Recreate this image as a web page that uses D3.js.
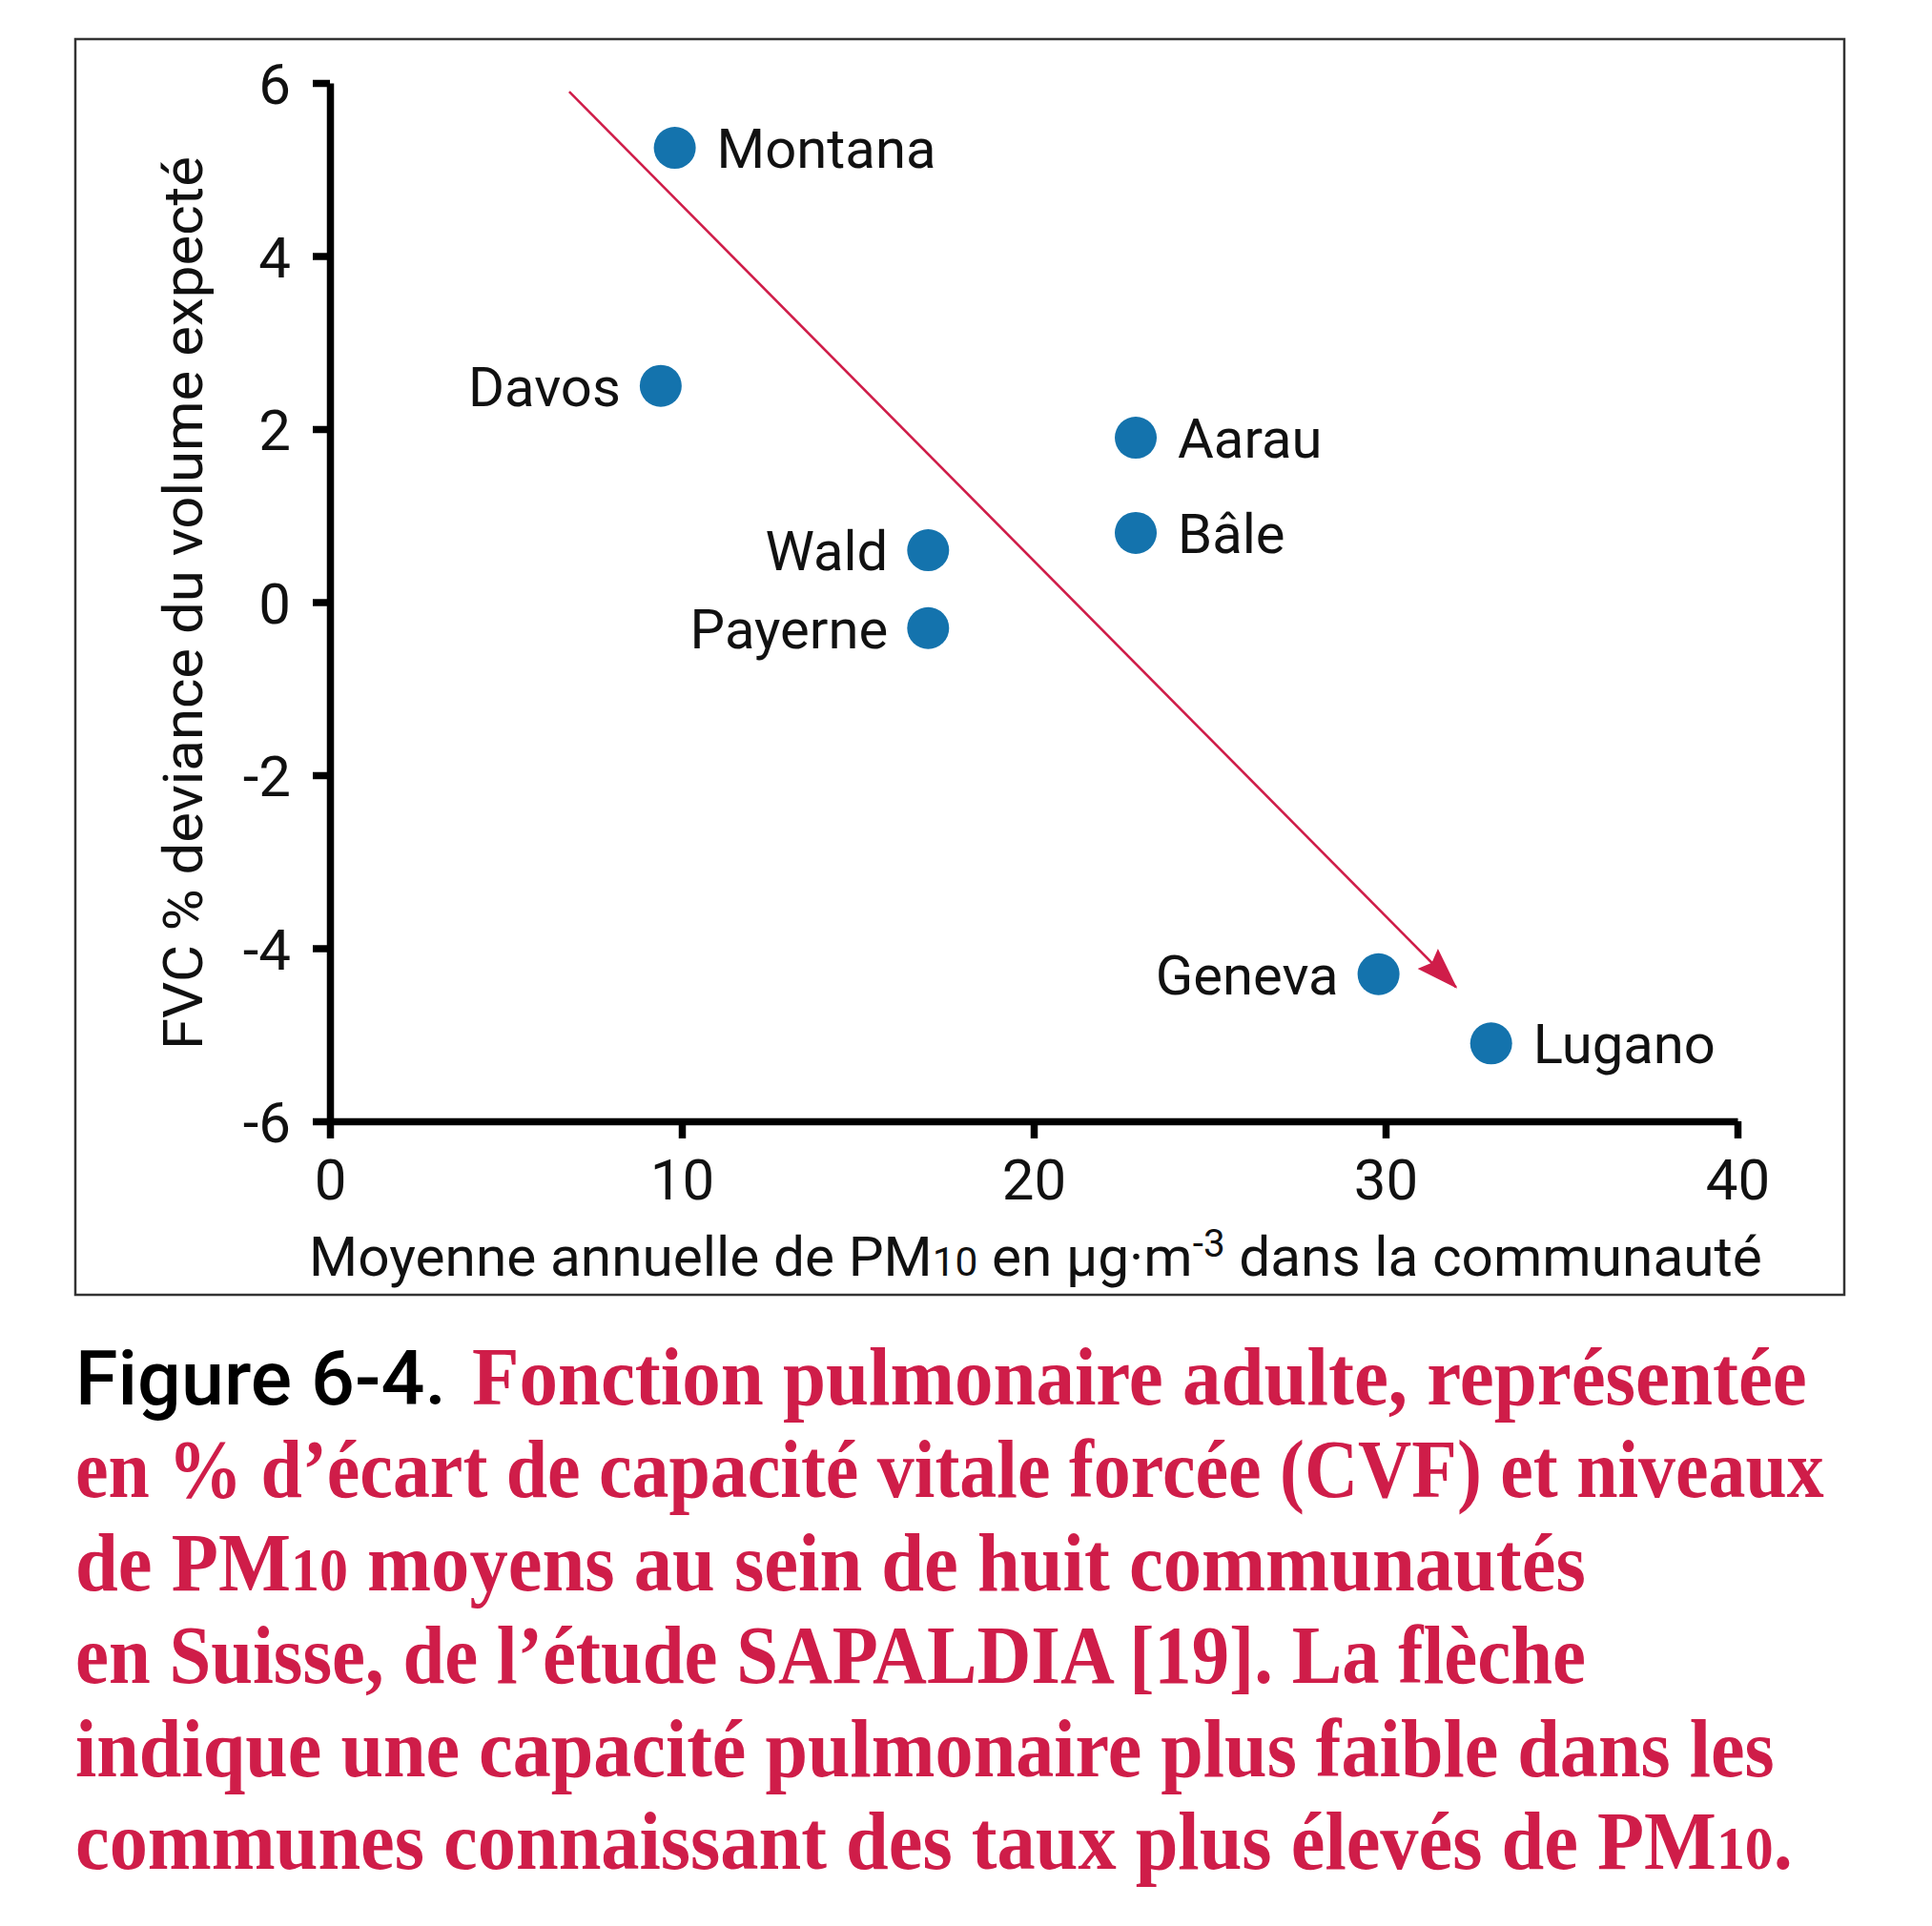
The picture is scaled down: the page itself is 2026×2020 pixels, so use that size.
<!DOCTYPE html>
<html>
<head>
<meta charset="utf-8">
<script src="https://cdnjs.cloudflare.com/ajax/libs/d3/7.8.5/d3.min.js"></script>
<style>
  body { margin: 0; background: #fff; }
  svg { display: block; }
</style>
</head>
<body>
<svg id="chart" width="2026" height="2020"></svg>
<script>
// --- data ---
var cities = ['Montana', 'Davos', 'Aarau', 'Bâle', 'Wald', 'Payerne', 'Geneva', 'Lugano'];
var pm10 = [9.8, 9.4, 22.9, 22.9, 17.0, 17.0, 29.8, 33.0];
var fvcDev = [5.25, 2.5, 1.9, 0.8, 0.6, -0.3, -4.3, -5.1];
var xTicks = [0, 10, 20, 30, 40];
var yTicks = [-6, -4, -2, 0, 2, 4, 6];
// trend arrow, start and end in data units
var arrowPm10 = [6.8, 32.0];
var arrowFvc = [5.9, -4.45];

var captionLines = [
    'Fonction pulmonaire adulte, représentée',
    'en % d’écart de capacité vitale forcée (CVF) et niveaux',
    'de PM|10| moyens au sein de huit communautés',
    'en Suisse, de l’étude SAPALDIA [19]. La flèche',
    'indique une capacité pulmonaire plus faible dans les',
    'communes connaissant des taux plus élevés de PM|10|.'
];

var blue = '#1473ad', red = '#cf1d49';
var font = 'Roboto, "DejaVu Sans", sans-serif';
var svg = d3.select('#chart');

// labels that sit to the left of their dot
var leftLabeled = ['Davos', 'Wald', 'Payerne', 'Geneva'];

// frame
svg.append('rect')
    .attr('x', 79).attr('y', 41)
    .attr('width', 1855).attr('height', 1317)
    .attr('fill', 'none').attr('stroke', '#333').attr('stroke-width', 2.5);

var x = d3.scaleLinear().domain([0, 40]).range([346, 1822]);
var y = d3.scaleLinear().domain([-6, 6]).range([1176, 87]);

// fit a text node horizontally into [x0, x1]
function fitWidth(sel, x0, x1, baseY) {
    var w = sel.node().getBBox().width;
    sel.attr('transform', 'translate(' + x0 + ',' + baseY + ') scale(' + ((x1 - x0) / w) + ',1)');
}

// axes
var xAxis = svg.append('g')
    .attr('transform', 'translate(0,' + y(-6) + ')')
    .call(d3.axisBottom(x).tickValues(xTicks).tickSize(18).tickSizeOuter(0).tickPadding(21));
var yAxis = svg.append('g')
    .attr('transform', 'translate(' + x(0) + ',0)')
    .call(d3.axisLeft(y).tickValues(yTicks).tickSize(18).tickSizeOuter(0).tickPadding(23)
        .tickFormat(function (d) { return d; }));

[xAxis, yAxis].forEach(function (g) {
    g.select('.domain').attr('stroke', '#000').attr('stroke-width', 7.5);
    g.selectAll('.tick line').attr('stroke', '#000').attr('stroke-width', 7.5);
    g.selectAll('.tick text')
        .attr('fill', '#111')
        .style('font-family', font)
        .style('font-size', '60px');
});
yAxis.selectAll('.tick text').attr('dy', '0.36em');

// axis titles
var xTitle = svg.append('text')
    .attr('fill', '#111')
    .style('font-family', font)
    .style('font-size', '58px');
xTitle.append('tspan').text('Moyenne annuelle de PM');
xTitle.append('tspan').style('font-size', '42px').text('10');
xTitle.append('tspan').text(' en µg·m');
xTitle.append('tspan').style('font-size', '40px').attr('dy', -20).text('-3');
xTitle.append('tspan').attr('dy', 20).text(' dans la communauté');
fitWidth(xTitle, 324, 1848, 1338);

var yTitle = svg.append('text')
    .attr('fill', '#111')
    .style('font-family', font)
    .style('font-size', '58px')
    .text('FVC % deviance du volume expecté');
var yTitleW = yTitle.node().getBBox().width;
yTitle.attr('transform', 'translate(212,1101) rotate(-90) scale(' + (937 / yTitleW) + ',1)');

// trend arrow
svg.append('defs').append('marker')
    .attr('id', 'head')
    .attr('markerUnits', 'userSpaceOnUse')
    .attr('viewBox', '0 0 44 32')
    .attr('refX', 42).attr('refY', 16)
    .attr('markerWidth', 44).attr('markerHeight', 32)
    .attr('orient', 'auto')
    .append('path')
    .attr('d', 'M0,1 L44,16 L0,31 L6,16 Z')
    .attr('fill', red);

svg.append('line')
    .attr('x1', x(arrowPm10[0])).attr('y1', y(arrowFvc[0]))
    .attr('x2', x(arrowPm10[1])).attr('y2', y(arrowFvc[1]))
    .attr('stroke', red).attr('stroke-width', 2.6)
    .attr('marker-end', 'url(#head)');

// points and labels
var pts = cities.map(function (c, i) {
    return { name: c, x: pm10[i], y: fvcDev[i], left: leftLabeled.indexOf(c) >= 0 };
});

svg.append('g').selectAll('circle')
    .data(pts)
    .enter().append('circle')
    .attr('cx', function (d) { return x(d.x); })
    .attr('cy', function (d) { return y(d.y); })
    .attr('r', 22)
    .attr('fill', blue);

svg.append('g').selectAll('text')
    .data(pts)
    .enter().append('text')
    .attr('x', function (d) { return x(d.x) + (d.left ? -42 : 44); })
    .attr('y', function (d) { return y(d.y); })
    .attr('dy', '0.36em')
    .attr('text-anchor', function (d) { return d.left ? 'end' : 'start'; })
    .attr('fill', '#111')
    .style('font-family', font)
    .style('font-size', '58px')
    .text(function (d) { return d.name; });

// caption
var figLabel = svg.append('text')
    .attr('fill', '#000')
    .style('font-family', font)
    .style('font-size', '80px')
    .style('font-weight', 500)
    .text('Figure 6-4.');
fitWidth(figLabel, 79, 468, 1473);

var lineStarts = [495, 79, 79, 79, 79, 79];
var lineEnds = [1895, 1913, 1663, 1663, 1861, 1880];
var lineBase = 1473, lineGap = 97.4;

captionLines.forEach(function (line, i) {
    var t = svg.append('text')
        .attr('fill', red)
        .style('font-family', '"Liberation Serif", "DejaVu Serif", serif')
        .style('font-weight', 'bold')
        .style('font-size', '86px');
    line.split('|').forEach(function (part, k) {
        var ts = t.append('tspan').text(part);
        if (k % 2 === 1) ts.style('font-size', '64px');
    });
    fitWidth(t, lineStarts[i], lineEnds[i], lineBase + i * lineGap);
});
</script>
</body>
</html>
